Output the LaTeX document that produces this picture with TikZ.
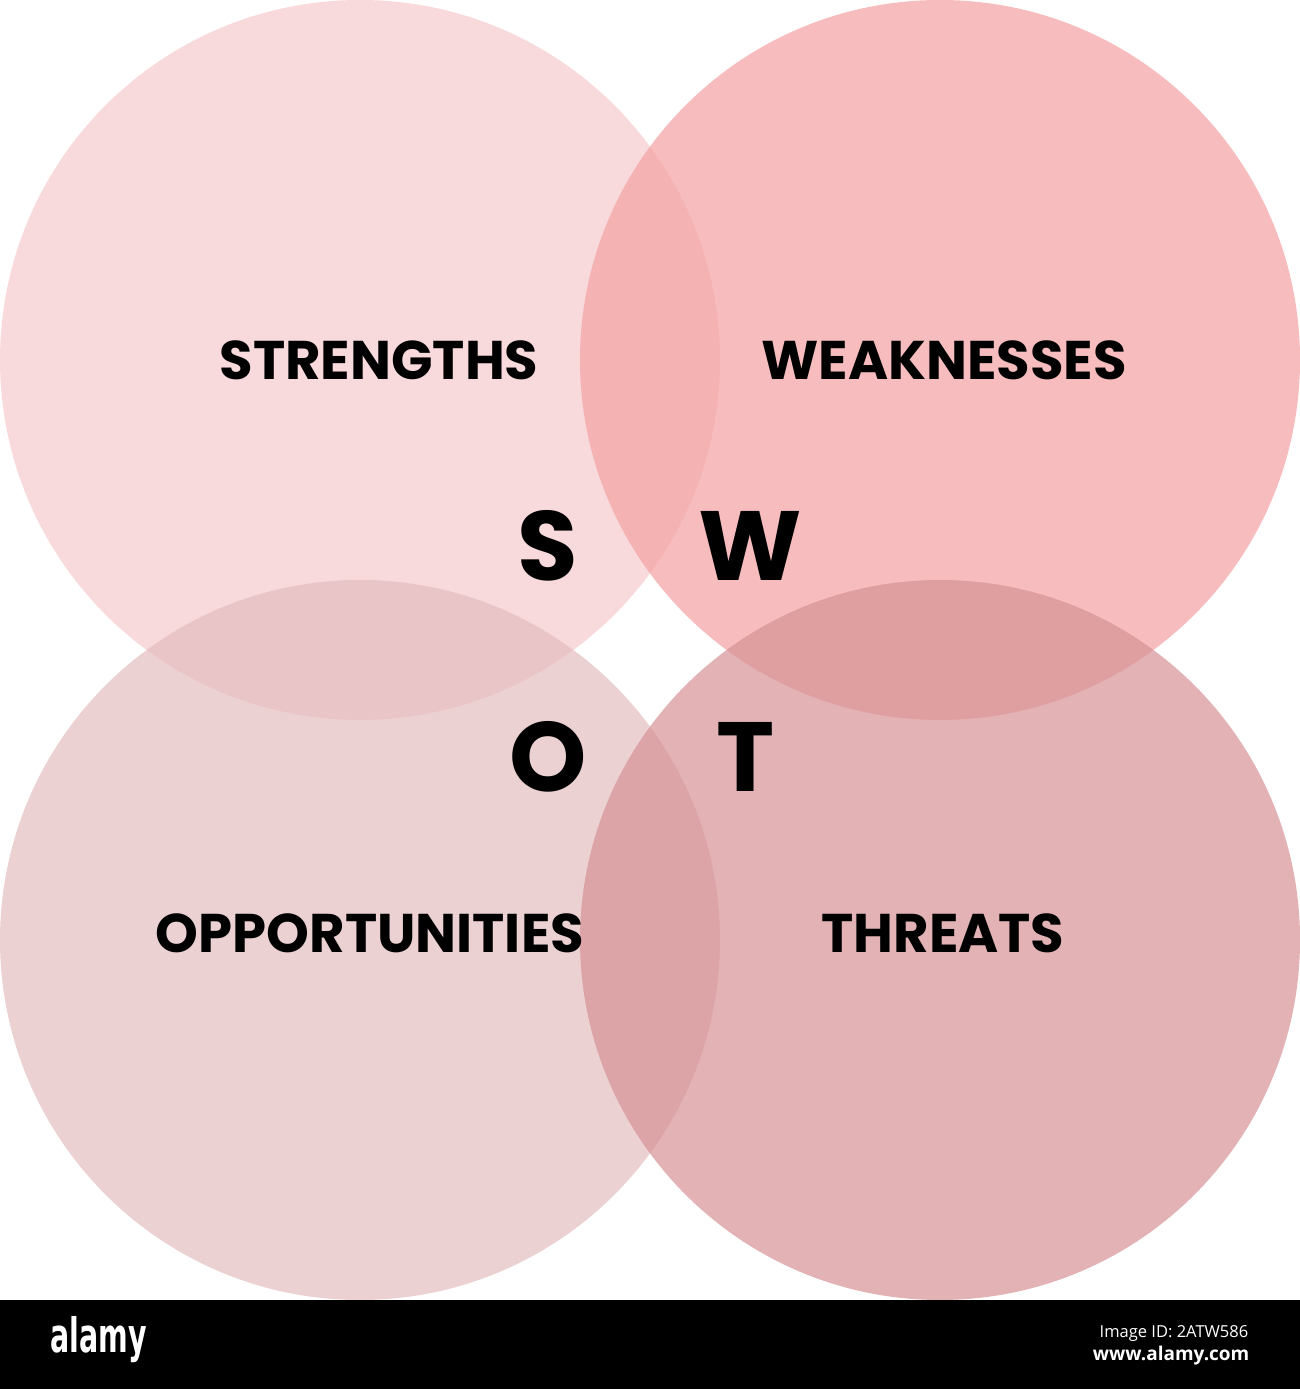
\documentclass[tikz,border=0pt]{standalone}
\usepackage{fontspec}
\setmainfont{Poppins}
\newfontfamily\barfont{Open Sans}
\newfontfamily\logofont{DejaVu Sans}
\usepackage{tikz}
\usetikzlibrary{positioning}

\definecolor{strcol}{RGB}{245,202,205}
\definecolor{weakcol}{RGB}{244,161,162}
\definecolor{oppcol}{RGB}{228,189,192}
\definecolor{thrcol}{RGB}{214,146,149}

\begin{document}
\begin{tikzpicture}
	\def \toprow{10.29cm}
	\def \botrow{4.49cm}
	\def \leftcol{3.6cm}
	\def \rightcol{9.4cm}
	\def \rad{3.6cm}
	\tikzstyle{quad}=[draw=none,fill opacity=0.7]
	\tikzstyle{label}=[font=\bfseries\fontsize{15.5}{18}\selectfont,inner sep=0pt]
	\tikzstyle{letter}=[font=\bfseries\fontsize{28}{32}\selectfont,inner sep=0pt]
	\tikzstyle{bartext}=[text=white,inner sep=0pt]
	\useasboundingbox (0,0) rectangle (13,13.89);

	% circles
	\fill[quad,strcol]	(\leftcol,\toprow)	circle (\rad);
	\fill[quad,weakcol]	(\rightcol,\toprow)	circle (\rad);
	\fill[quad,oppcol]	(\leftcol,\botrow)	circle (\rad);
	\fill[quad,thrcol]	(\rightcol,\botrow)	circle (\rad);

	% labels
	\node[label] 	(strengths)	at (3.79cm,\toprow)	{STRENGTHS};
	\node[label] 	(weaknesses)	at (9.44cm,\toprow)	{WEAKNESSES};
	\node[label] 	(opportunities)	at (3.70cm,4.56cm)	{OPPORTUNITIES};
	\node[label] 	(threats)	at (9.43cm,4.56cm)	{THREATS};

	% letters
	\node[letter] 	(s)	at (5.48cm,8.43cm)	{S};
	\node[letter] 	(w)	at (7.50cm,8.43cm)	{W};
	\node[letter] 	(o)	at (5.48cm,6.32cm)	{O};
	\node[letter] 	(t)	at (7.46cm,6.32cm)	{T};

	% bottom bar
	\fill[black] (0,0) rectangle (13,0.89);
	\node[bartext,font=\logofont\bfseries\fontsize{13.5}{16}\selectfont,xscale=0.6,anchor=base west] (logo) at (0.5cm,0.36cm) {alamy};
	\node[bartext,font=\barfont\fontsize{4.7}{6}\selectfont,anchor=base east] (imgid) at (12.49cm,0.52cm) {Image ID: 2ATW586};
	\node[bartext,font=\barfont\bfseries\fontsize{5.4}{7}\selectfont,anchor=base east] (site) at (12.5cm,0.29cm) {www.alamy.com};
\end{tikzpicture}
\end{document}
